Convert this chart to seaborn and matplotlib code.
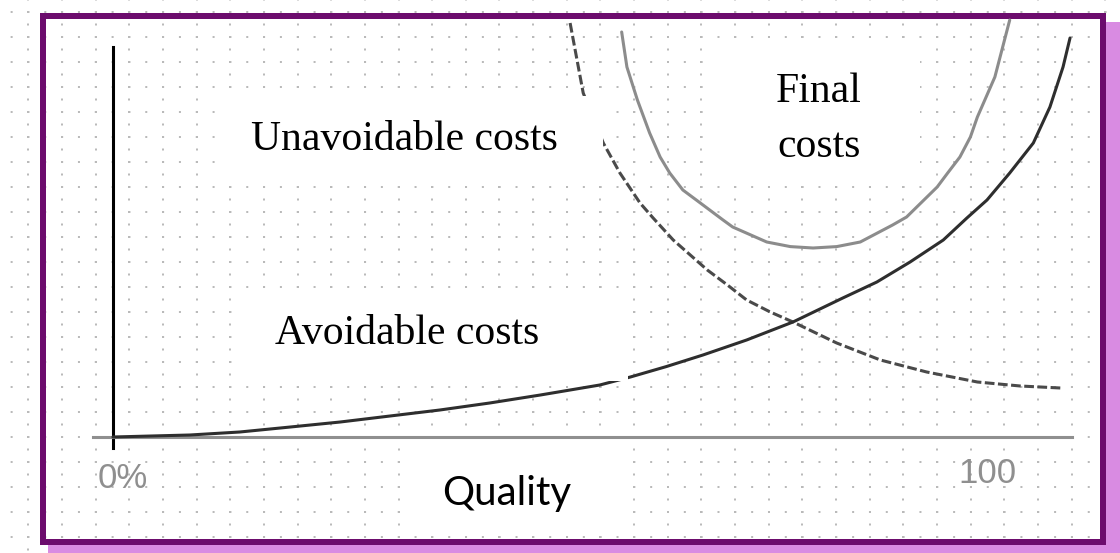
import matplotlib
matplotlib.use('Agg')
import numpy as np
import matplotlib.pyplot as plt
import seaborn as sns
from matplotlib.patches import Rectangle

# values: quality on x (0..100), cost on y (0 at the x axis)
avoid_q = [0, 8.8, 14.5, 20.3, 26.0, 31.7, 37.4, 43.1, 48.9, 55.7, 59.2, 63.3, 67.5, 72.5,
           77.8, 83.5, 87.4, 91.2, 95.0, 97.7, 100.0, 102.6, 105.3, 107.2, 108.7, 109.5]
avoid_c = [0, 0.5, 1.25, 2.5, 3.75, 5.25, 6.75, 8.5, 10.5, 13, 15.0, 17.6, 20.5, 24.25,
           28.75, 34.75, 38.75, 43.75, 49.25, 54.75, 59.25, 66, 73.5, 82.5, 92.5, 99.75]

unavoid_q = [52.3, 53.8, 56.1, 58.0, 60.3, 61.8, 64.1, 68.0, 70.3, 72.5, 75.2, 77.8, 82.8,
             87.8, 93.1, 98.9, 103.8, 108.4]
unavoid_c = [103.5, 86, 73.5, 66, 58.5, 54.75, 49.25, 41.75, 38.0, 34.25, 31.25, 28.75, 23.5,
             19.25, 16.25, 13.75, 12.75, 12.25]

final_q = [58.2, 58.8, 60.0, 61.4, 62.6, 63.7, 65.2, 67.2, 69.8, 70.9, 74.8, 77.5, 80.1,
           82.8, 85.5, 89.2, 90.8, 94.3, 95.5, 96.9, 98.1, 98.9, 100.9, 102.6]
final_c = [101.25, 92.5, 84.25, 76, 70.0, 66, 61.75, 58.5, 54.25, 52.5, 48.75, 47.6, 47.25,
           47.6, 48.75, 53, 55, 62.5, 66.0, 70, 75.0, 80, 90, 104.25]

axis_labels = ['0%', '100']
axis_label_q = [1.1, 100]

sns.set_style('white')
plt.rcParams['lines.scale_dashes'] = False
plt.rcParams['font.family'] = ['Liberation Serif', 'DejaVu Serif']

PX = 0.72  # points per pixel at dpi 100

fig = plt.figure(figsize=(11.2, 5.53), dpi=100)

# background: dotted paper, purple frame with shadow
bg = fig.add_axes([0, 0, 1, 1])
bg.set_xlim(0, 1120)
bg.set_ylim(553, 0)
bg.axis('off')
dot = '#bababa'
for yy in np.arange(12, 553, 25):
    bg.axhline(yy, color=dot, lw=2 * PX, linestyle=(6.2 * PX, (2 * PX, 14.83 * PX)), zorder=1)
for xx in np.arange(28.4, 1120, 33.65):
    bg.axvline(xx, color=dot, lw=2 * PX, linestyle=(10 * PX, (2 * PX, 10.5 * PX)), zorder=1)
bg.add_patch(Rectangle((1106, 22), 14, 531, color='#d98be2', lw=0, zorder=2))
bg.add_patch(Rectangle((48, 545), 1072, 8, color='#d98be2', lw=0, zorder=2))
bg.add_patch(Rectangle((42.5, 15.5), 1060, 526, fill=False, edgecolor='#6c0c6d',
                       lw=6 * PX, zorder=3))

# chart
ax = fig.add_axes([113 / 1120, (553 - 437) / 553, (1072 - 113) / 1120, (437 - 47) / 553])
ax.set_facecolor('none')
ax.set_xlim(0, (1072 - 113) / 8.74)
ax.set_ylim(0, (437 - 47) / 4)
ax.set_xticks([])
ax.set_yticks([])
ax.spines[['top', 'right']].set_visible(False)
ax.spines['left'].set_color('black')
ax.spines['left'].set_linewidth(2.2)
ax.spines['left'].set_bounds(-2.75, 97.5)
ax.spines['bottom'].set_color('#8f8f8f')
ax.spines['bottom'].set_linewidth(2.2)
ax.spines['bottom'].set_bounds(-2.3, 109.7)

sns.lineplot(x=final_q, y=final_c, ax=ax, color='#8c8c8c', lw=2.2, sort=False,
             estimator=None, clip_on=False, zorder=3)
sns.lineplot(x=unavoid_q, y=unavoid_c, ax=ax, color='#4a4a4a', lw=2.2, sort=False,
             estimator=None, clip_on=False, zorder=3, linestyle=(0, (7, 2.5)))
sns.lineplot(x=avoid_q, y=avoid_c, ax=ax, color='#2e2e2e', lw=2.2, sort=False,
             estimator=None, clip_on=False, zorder=3)

# white label boxes
for (x0, y0, w, h) in [(12.0, 63.5, 44.06, 21.75), (68.0, 63.5, 24.3, 34),
                       (14.2, 14.0, 44.7, 22), (32.8, -23.25, 26.1, 20.75)]:
    ax.add_patch(Rectangle((x0, y0), w, h, facecolor='white', edgecolor='none',
                           zorder=4, clip_on=False))

serif = dict(ha='center', va='baseline', fontsize=30, color='black', zorder=5)
ax.text(33.4, 71.75, 'Unavoidable costs', **serif)
ax.text(33.6, 23.25, 'Avoidable costs', **serif)
ax.text(80.8, 83.75, 'Final', **serif)
ax.text(80.8, 70, 'costs', **serif)

ax.text(45.0, -17, 'Quality', ha='center', va='baseline', fontsize=29, color='black',
        family=['Lato', 'DejaVu Sans'], zorder=5)
for q, lab, base in zip(axis_label_q, axis_labels, [-12.75, -11.5]):
    ax.text(q, base, lab, ha='center', va='baseline', fontsize=25, color='#8f8f8f',
            family=['Liberation Sans', 'DejaVu Sans'], zorder=5)

fig.savefig('out.png', dpi=100)
